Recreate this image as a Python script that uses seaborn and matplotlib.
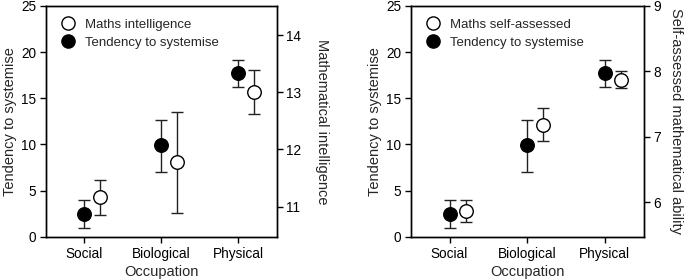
import numpy as np
import pandas as pd
import seaborn as sns
import matplotlib.pyplot as plt
from matplotlib.lines import Line2D

categories = ["Social", "Biological", "Physical"]

# tendency to systemise (left axis, filled), same in both panels
syst_mean = [2.5, 9.9, 17.7]
syst_low = [1.0, 7.0, 16.2]
syst_high = [4.0, 12.7, 19.1]

# maths intelligence (right axis of left panel, open)
mi_mean = [11.16, 11.78, 13.0]
mi_low = [10.86, 10.88, 12.62]
mi_high = [11.47, 12.66, 13.39]

# maths self-assessed (right axis of right panel, open)
sa_mean = [5.87, 7.18, 7.87]
sa_low = [5.70, 6.94, 7.74]
sa_high = [6.04, 7.44, 8.0]

sns.set_theme(style="ticks")
plt.rcParams["font.family"] = ["Liberation Sans", "DejaVu Sans"]
plt.rcParams["font.size"] = 10


def draw_series(ax, mean, low, high, offset, face):
    x = np.arange(len(categories)) + offset
    mean = np.array(mean)
    yerr = [mean - np.array(low), np.array(high) - mean]
    ax.errorbar(x, mean, yerr=yerr, fmt="none", ecolor="#222222",
                elinewidth=1.0, capsize=4.5, capthick=1.0, zorder=2)
    df = pd.DataFrame({"x": x, "y": mean})
    sns.scatterplot(data=df, x="x", y="y", ax=ax, s=95, color=face,
                    edgecolor="black", linewidth=1.0, zorder=3, legend=False)


def make_panel(rect, open_mean, open_low, open_high, open_label, right_label,
               right_lim, right_ticks, offset, rpad):
    ax = fig.add_axes(rect)
    draw_series(ax, syst_mean, syst_low, syst_high, 0.0, "black")
    ax.set_xlim(-0.5, 2.5)
    ax.set_ylim(0, 25)
    ax.set_yticks([0, 5, 10, 15, 20, 25])
    ax.set_xticks(range(len(categories)))
    ax.set_xticklabels(categories)
    ax.set_xlabel("Occupation", fontsize=10.5, labelpad=3)
    ax.set_ylabel("Tendency to systemise", fontsize=10.5, labelpad=3)

    ax2 = ax.twinx()
    draw_series(ax2, open_mean, open_low, open_high, offset, "white")
    ax2.set_xlim(-0.5, 2.5)
    ax2.set_ylim(*right_lim)
    ax2.set_yticks(right_ticks)
    ax2.set_ylabel(right_label, fontsize=10.5, rotation=270, labelpad=rpad)
    ax2.set_xlabel("")

    for a in (ax, ax2):
        for s in a.spines.values():
            s.set_visible(True)
            s.set_linewidth(1.0)
            s.set_color("black")
        a.tick_params(direction="out", length=4.5, width=1.0, colors="black",
                      labelsize=9.8, pad=2.5)

    handles = [
        Line2D([], [], marker="o", linestyle="none", markersize=9.5,
               markerfacecolor="white", markeredgecolor="black"),
        Line2D([], [], marker="o", linestyle="none", markersize=9.5,
               markerfacecolor="black", markeredgecolor="black"),
    ]
    ax2.legend(handles, [open_label, "Tendency to systemise"], loc="upper left",
               frameon=False, fontsize=9.5, handletextpad=0.5,
               borderaxespad=0.55, labelspacing=0.45, handlelength=1.5)
    return ax, ax2


fig = plt.figure(figsize=(6.85, 2.8), dpi=100)

make_panel([0.067, 0.154, 0.337, 0.825], mi_mean, mi_low, mi_high,
           "Maths intelligence", "Mathematical intelligence",
           (10.47, 14.51), [11, 12, 13, 14], 0.2, 20)
make_panel([0.5996, 0.154, 0.340, 0.825], sa_mean, sa_low, sa_high,
           "Maths self-assessed", "Self-assessed mathematical ability",
           (5.47, 9.0), [6, 7, 8, 9], 0.21, 16)

fig.savefig("out.png", dpi=100)
